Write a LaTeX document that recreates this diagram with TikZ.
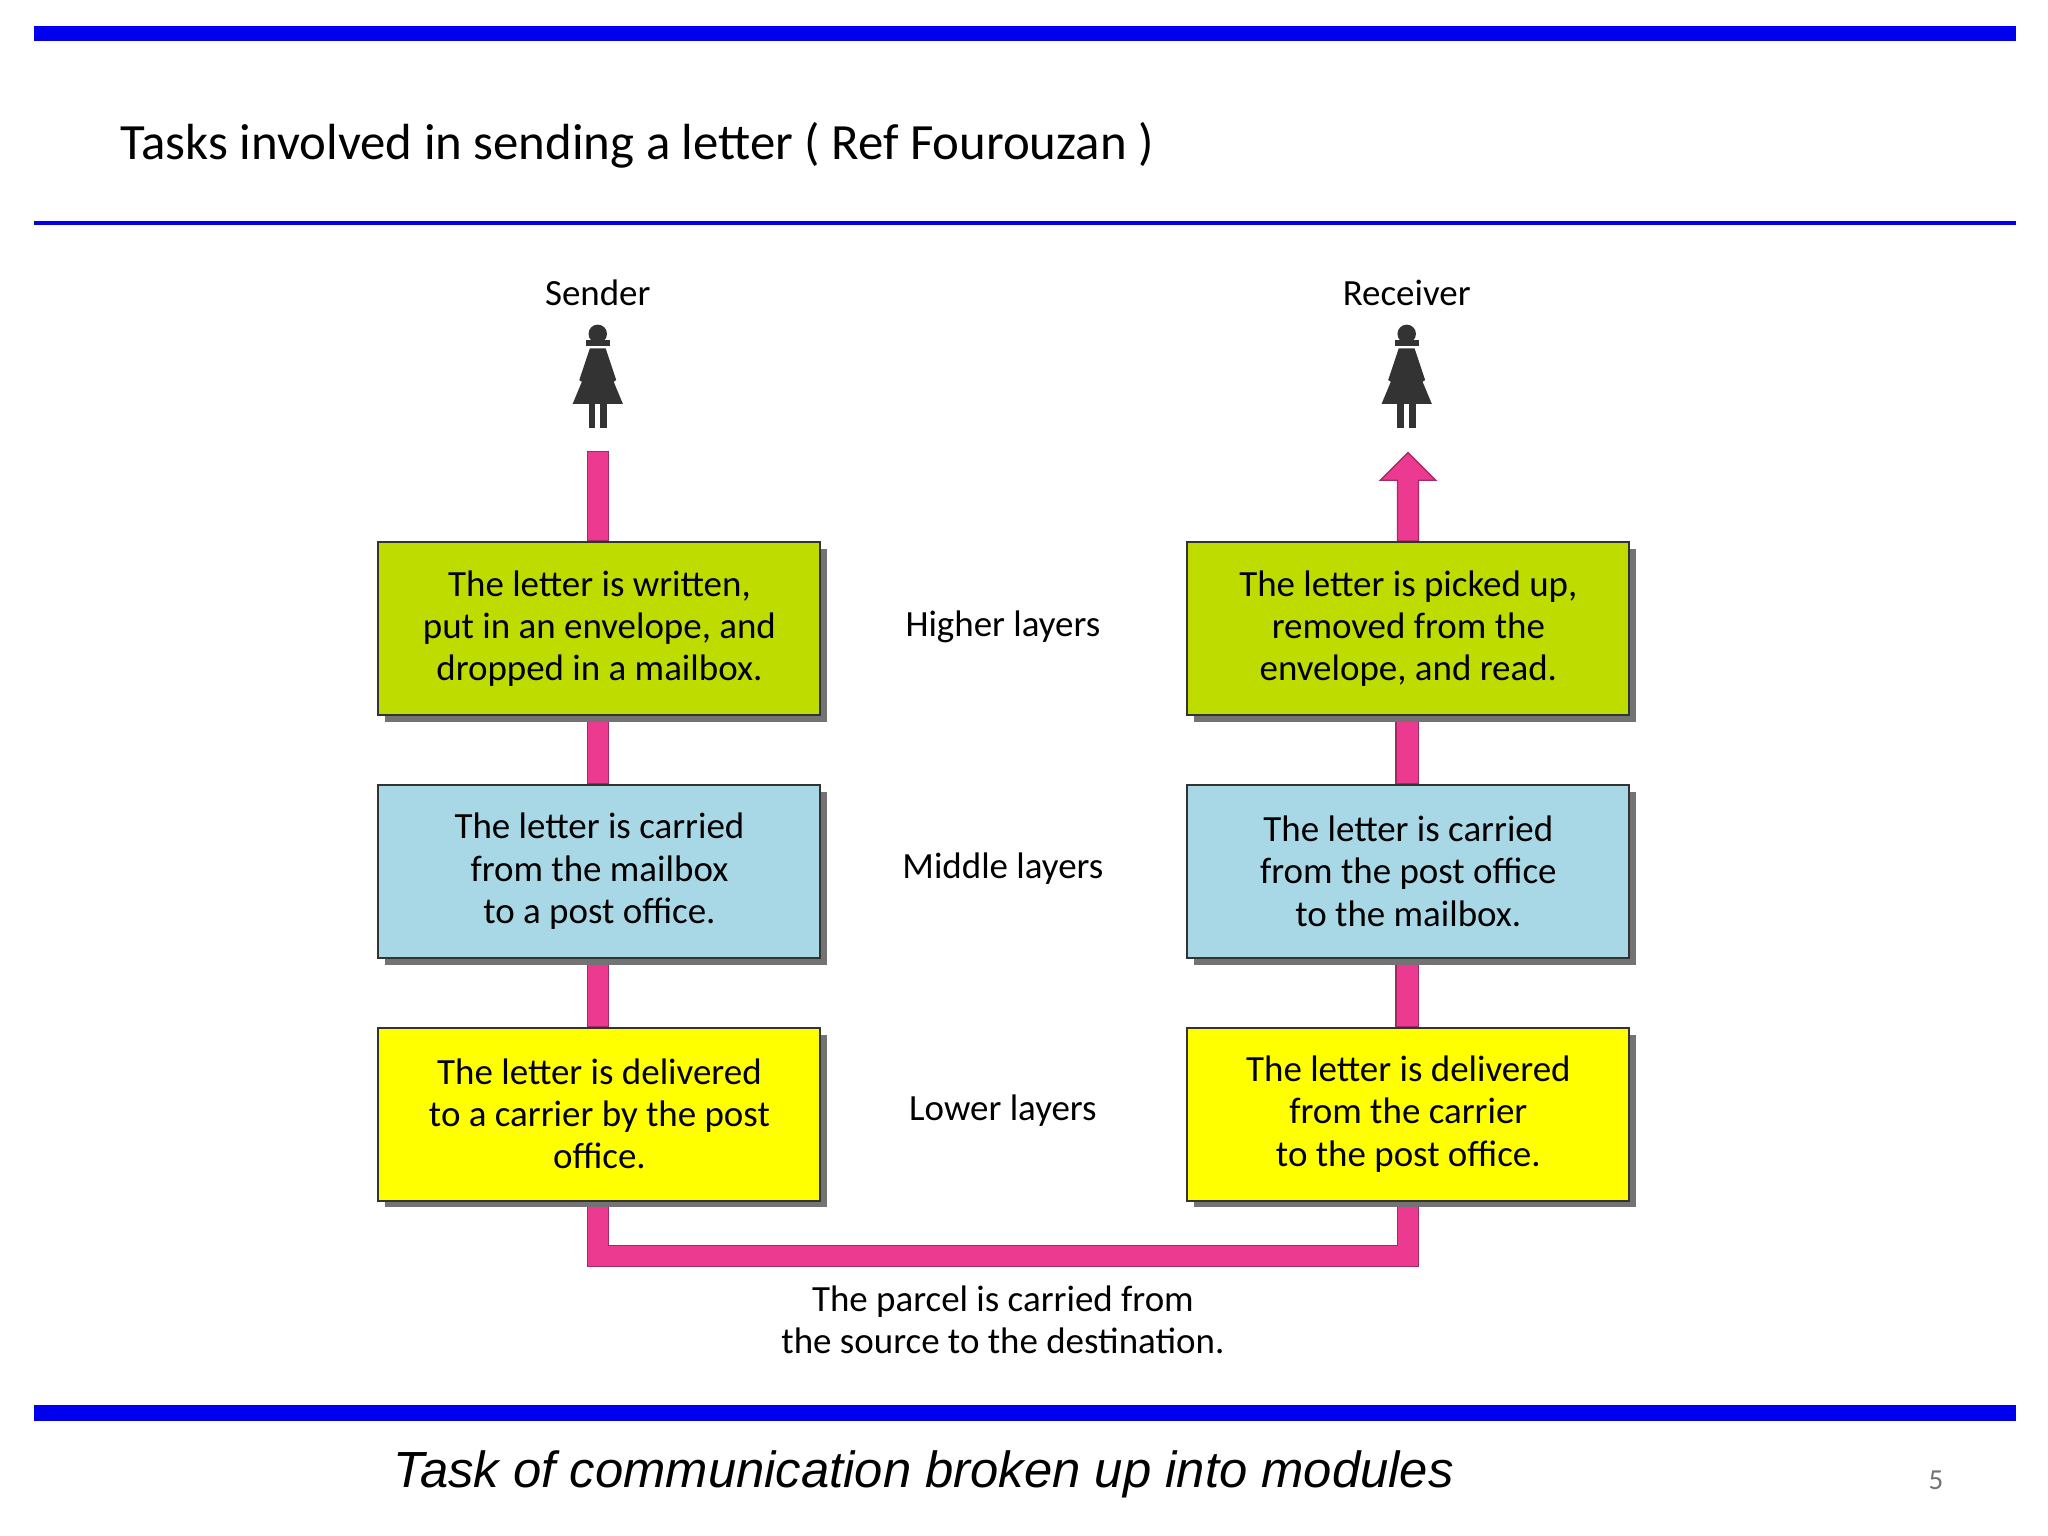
\documentclass[tikz,border=0pt]{standalone}
\usepackage{fontspec}
\setmainfont{Carlito}
\newfontfamily\arialf{Liberation Sans}
\begin{document}
\begin{tikzpicture}[x=1pt,y=-1pt,
  box/.style={draw=black!80,line width=1.5pt,minimum width=335pt,minimum height=131pt,align=center,inner sep=0pt,font=\fontsize{28}{32}\selectfont},
  lbl/.style={font=\fontsize{28}{32}\selectfont,align=center},
  pinkc/.style={fill=mypink,draw=mypink!70!black,line width=1pt}]
\definecolor{mygreen}{HTML}{BFDC00}
\definecolor{myblue}{HTML}{A8D8E6}
\definecolor{myyel}{HTML}{FFFF00}
\definecolor{mypink}{HTML}{EC3A91}
\definecolor{barblue}{HTML}{0000EE}
\useasboundingbox (0,0) rectangle (1552,1164);
\fill[white] (0,0) rectangle (1552,1164);
% bars
\fill[barblue] (26,20) rectangle (1528,31);
\draw[barblue,line width=2.5pt] (26,169) -- (1528,169);
\fill[barblue] (26,1065) rectangle (1528,1077);
\node[anchor=west,font=\fontsize{38.5}{42}\selectfont] (title) at (88,110) {Tasks involved in sending a letter ( Ref Fourouzan )};
% pink connectors
\fill[pinkc] (445,342) rectangle (461,410);
\fill[pinkc] (445,542) rectangle (461,594);
\fill[pinkc] (445,725) rectangle (461,778);
\fill[pinkc] (1058,542) rectangle (1075,594);
\fill[pinkc] (1058,725) rectangle (1075,778);
\filldraw[pinkc] (1059,410) -- (1059,364) -- (1046,364) -- (1067,343) -- (1088,364) -- (1075,364) -- (1075,410) -- cycle;
\filldraw[pinkc] (445,909) -- (445,960) -- (1075,960) -- (1075,909) -- (1059,909) -- (1059,944) -- (461,944) -- (461,909) -- cycle;
% shadows
\foreach \x in {286,899} \foreach \y in {410,594,778}
  \fill[black!55] (\x+6,\y+6) rectangle (\x+341,\y+137);
% boxes
\node[box,fill=mygreen,anchor=north west] (s1) at (286,410) {The letter is written,\\put in an envelope, and\\dropped in a mailbox.};
\node[box,fill=myblue,anchor=north west] (s2) at (286,594) {The letter is carried\\from the mailbox\\to a post office.};
\node[box,fill=myyel,anchor=north west] (s3) at (286,778) {The letter is delivered\\to a carrier by the post\\office.};
\node[box,fill=mygreen,anchor=north west] (r1) at (899,410) {The letter is picked up,\\removed from the\\envelope, and read.};
\node[box,fill=myblue,anchor=north west] (r2) at (899,594) {The letter is carried\\from the post office\\to the mailbox.};
\node[box,fill=myyel,anchor=north west] (r3) at (899,778) {The letter is delivered\\from the carrier\\to the post office.};
\node[lbl] (hl) at (760,475) {Higher layers};
\node[lbl] (ml) at (760,658) {Middle layers};
\node[lbl] (ll) at (760,842) {Lower layers};
\node[lbl] (parcel) at (760,1000) {The parcel is carried from\\the source to the destination.};
\node[lbl] (snd) at (453,222) {Sender};
\node[lbl] (rcv) at (1066,222) {Receiver};
% persons
\foreach \cx in {453,1066}{
  \fill[black!80] (\cx,253) circle (7);
  \fill[black!80] (\cx-9,258) rectangle (\cx+9,262);
  \fill[black!80] (\cx-6,264) -- (\cx+6,264) -- (\cx+14,288) -- (\cx+11,290) -- (\cx+9,282) -- (\cx+19,306) -- (\cx-19,306) -- (\cx-9,282) -- (\cx-11,290) -- (\cx-14,288) -- cycle;
  \fill[black!80] (\cx-7,306) rectangle (\cx-2,324);
  \fill[black!80] (\cx+2,306) rectangle (\cx+7,324);
}
\node[font=\arialf\itshape\fontsize{38.5}{42}\selectfont] (cap) at (700,1117) {Task of communication broken up into modules};
\node[font=\fontsize{22}{24}\selectfont,text=black!55] (pg) at (1467,1122) {5};
\end{tikzpicture}
\end{document}
